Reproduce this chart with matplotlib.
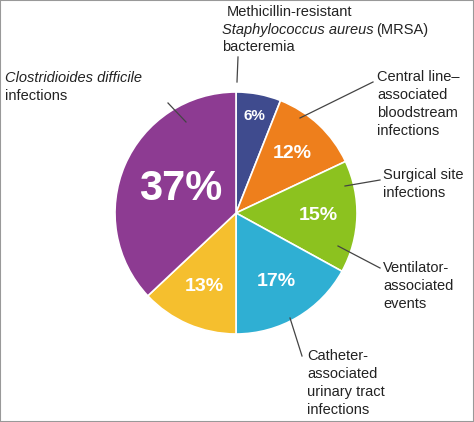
import matplotlib
matplotlib.use("Agg")
import matplotlib.pyplot as plt
import numpy as np
from matplotlib.patches import Rectangle

categories = ["MRSA bacteremia", "Central line-associated bloodstream infections",
              "Surgical site infections", "Ventilator-associated events",
              "Catheter-associated urinary tract infections", "Clostridioides difficile infections"]
values = [6, 12, 15, 17, 13, 37]
pct_labels = ["6%", "12%", "15%", "17%", "13%", "37%"]
colors = ["#3f4b8e", "#ee7f1c", "#8cc21f", "#2fafd3", "#f5bf2e", "#8d3b92"]

plt.rcParams['font.family'] = ['Liberation Sans', 'DejaVu Sans']
W, H = 474, 422
fig = plt.figure(figsize=(W/100, H/100), dpi=100)
ax = fig.add_axes([0, 0, 1, 1])
ax.set_xlim(0, W); ax.set_ylim(0, H); ax.axis('off')

cx, cy, R = 236, 422-213, 121
wedges, _ = ax.pie(values, colors=colors, startangle=90, counterclock=False,
                   center=(cx, cy), radius=R, frame=True,
                   wedgeprops=dict(edgecolor='white', linewidth=1.2))
ax.set_xlim(0, W); ax.set_ylim(0, H); ax.axis('off')

fracs = [0.82, 0.68, 0.68, 0.66, 0.66, 0.5]
sizes = [11, 14, 14, 14, 14, 30]
for w, lab, f, s in zip(wedges, pct_labels, fracs, sizes):
    a = np.deg2rad((w.theta1 + w.theta2) / 2)
    ax.text(cx + R*f*np.cos(a), cy + R*f*np.sin(a), lab, color='white',
            fontsize=s, fontweight='bold', ha='center', va='center')

fs = 10.5
def T(x, y, s, **kw):
    return ax.text(x, H - y, s, fontsize=fs, va='center', ha='left', color='#222222', **kw)

T(227, 12, "Methicillin-resistant")
t1 = T(222, 30, "Staphylococcus aureus", style='italic')
fig.canvas.draw()
bb = t1.get_window_extent()
T(bb.x1 + 3, 30, "(MRSA)")
T(222, 47, "bacteremia")
T(5, 78, "Clostridioides difficile", style='italic')
T(5, 96, "infections")
for i, s in enumerate(["Central line–", "associated", "bloodstream", "infections"]):
    T(377, 77 + 18*i, s)
for i, s in enumerate(["Surgical site", "infections"]):
    T(383, 175 + 18*i, s)
for i, s in enumerate(["Ventilator-", "associated", "events"]):
    T(383, 268 + 18*i, s)
for i, s in enumerate(["Catheter-", "associated", "urinary tract", "infections"]):
    T(307, 356 + 18*i, s)

lines = [((238, 57), (237, 82)), ((168, 103), (186, 122)), ((373, 82), (300, 118)),
         ((380, 180), (345, 186)), ((380, 268), (338, 246)), ((302, 356), (290, 318))]
for (x0, y0), (x1, y1) in lines:
    ax.plot([x0, x1], [H-y0, H-y1], color='#444444', lw=0.9)

fig.patches.append(Rectangle((0, 0), 1, 1, transform=fig.transFigure, fill=False,
                             edgecolor='#999999', lw=1.5))
fig.savefig("out.png", dpi=100)
